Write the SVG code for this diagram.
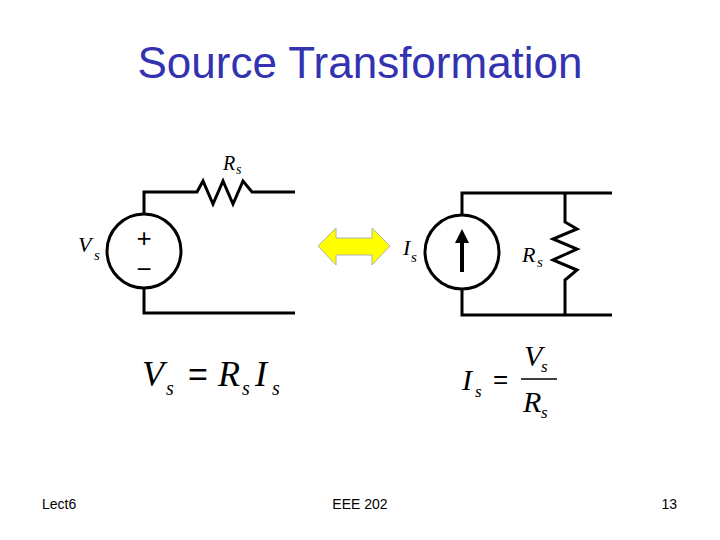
<svg xmlns="http://www.w3.org/2000/svg" width="720" height="540" viewBox="0 0 720 540">
<style>
.w{fill:none;stroke:#000;stroke-width:3}
.m{font-family:"Liberation Serif",serif;font-style:italic;fill:#000}
.s{font-family:"Liberation Sans",sans-serif;fill:#000}
</style>
<rect width="720" height="540" fill="#fff"/>
<text x="360" y="78" text-anchor="middle" font-family="Liberation Sans,sans-serif" font-size="44" fill="#3333b2">Source Transformation</text>
<g id="left-circuit">
<path class="w" d="M144,214 V192 H197 L203,181 L213,204 L223,181 L233,204 L243,181 L252,192 H295"/>
<path class="w" d="M144,288 V313 H295"/>
<circle class="w" cx="144" cy="251" r="37"/>
<text class="s" x="144" y="247" text-anchor="middle" font-size="26">+</text>
<text class="s" x="144" y="278" text-anchor="middle" font-size="26">−</text>
<text class="m" x="78" y="252" font-size="22">V</text><text class="m" x="94" y="260" font-size="15">s</text>
<text class="m" x="223" y="170" font-size="20">R</text><text class="m" x="236" y="174" font-size="14">s</text>
</g>
<g id="arrow">
<polygon points="318,246 336,228 336,238 372,238 372,228 390,246 372,265 372,255 336,255 336,265" fill="#ffff00" stroke="#b0b0b0" stroke-width="1"/>
</g>
<g id="right-circuit">
<path class="w" d="M462,215 V193 H612 M565,193 V222 L577,229 L553,239 L577,249 L553,260 L577,270 L565,280 V315 M462,289 V315 H612"/>
<circle class="w" cx="462" cy="252" r="37"/>
<line x1="462" y1="272" x2="462" y2="240" stroke="#000" stroke-width="4"/>
<polygon points="462,229 455,243 469,243" fill="#000"/>
<text class="m" x="403" y="255" font-size="22">I</text><text class="m" x="411" y="262" font-size="15">s</text>
<text class="m" x="522" y="262" font-size="22">R</text><text class="m" x="537" y="267" font-size="15">s</text>
</g>
<g id="equations">
<text class="m" x="142" y="386" font-size="36">V</text><text class="m" x="166" y="395" font-size="20">s</text>
<text class="s" x="188" y="386" font-size="34">=</text>
<text class="m" x="218" y="386" font-size="36">R</text><text class="m" x="242" y="395" font-size="20">s</text>
<text class="m" x="255" y="386" font-size="36">I</text><text class="m" x="272" y="395" font-size="20">s</text>
<text class="m" x="462" y="390" font-size="30">I</text><text class="m" x="475" y="397" font-size="17">s</text>
<text class="s" x="493" y="388" font-size="26">=</text>
<line x1="521" y1="379" x2="557" y2="379" stroke="#000" stroke-width="1.5"/>
<text class="m" x="524" y="366" font-size="30">V</text><text class="m" x="541" y="372" font-size="17">s</text>
<text class="m" x="523" y="412" font-size="30">R</text><text class="m" x="541" y="418" font-size="17">s</text>
</g>
<text class="s" x="42" y="509" font-size="14">Lect6</text>
<text class="s" x="360" y="509" text-anchor="middle" font-size="14">EEE 202</text>
<text class="s" x="677" y="509" text-anchor="end" font-size="14">13</text>
</svg>
